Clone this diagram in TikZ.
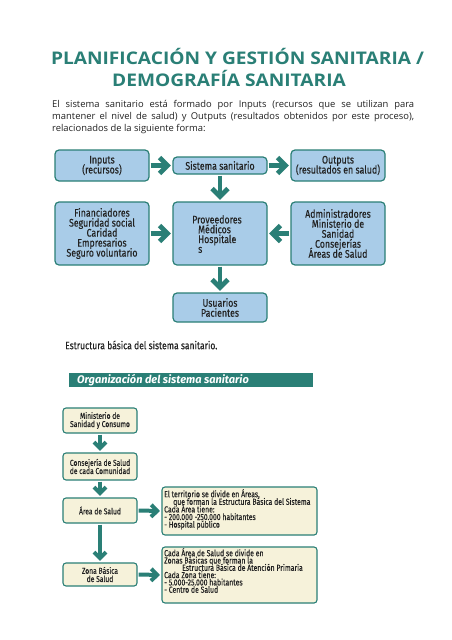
\documentclass[tikz,border=0pt]{standalone}
\usepackage{fontspec}
\setmainfont{Fira Sans}
\newfontfamily\cond[FakeStretch=0.8,FakeBold=0.3]{Fira Sans}
\newfontfamily\condb[FakeStretch=0.78,FakeBold=0.25]{Fira Sans}
\newfontfamily\titlefont{Open Sans}
\newfontfamily\titlewide[FakeStretch=1.1]{Open Sans}
\usetikzlibrary{arrows.meta}
\definecolor{teal1}{HTML}{2A7F76}
\definecolor{bluefill}{HTML}{A9CCE8}
\definecolor{creamfill}{HTML}{F6F2DA}
\definecolor{txt}{HTML}{222222}
\newcommand{\tightlines}{\lineskiplimit=-20pt\lineskip=0pt}
\tikzset{
  bluebox/.style={draw=teal1,line width=1.2pt,fill=bluefill,rounded corners=4pt,minimum width=94pt,inner sep=1pt,font=\cond\fontsize{11}{10}\selectfont\tightlines,text=txt,align=center},
  creambox/.style={draw=teal1,line width=1.1pt,fill=creamfill,rounded corners=3pt,inner sep=1pt,font=\condb\fontsize{8.6}{8.2}\selectfont\tightlines,text=txt,align=center},
  bigarrow/.style={draw=teal1,line width=4.8pt,-{Straight Barb[length=8pt,width=16pt]}},
  smallarrow/.style={draw=teal1,line width=4pt,-{Straight Barb[length=6pt,width=12pt]}},
  titletext/.style={font=\titlewide\bfseries\fontsize{17.4}{20}\selectfont,text=teal1,inner sep=0pt},
}
\begin{document}
\begin{tikzpicture}[x=1pt,y=-1pt]
\useasboundingbox[fill=white] (0,0) rectangle (452,640);
% title
\node[titletext] (title1) at (237.5,56) {PLANIFICACIÓN Y GESTIÓN SANITARIA /};
\node[titletext] (title2) at (229,78) {DEMOGRAFÍA SANITARIA};
\node[anchor=north west,inner sep=0pt,text width=362pt,align=justify,font=\titlefont\fontsize{9.4}{12}\selectfont,text=txt] (intro) at (52,100) {El sistema sanitario está formado por Inputs (recursos que se utilizan para\linebreak mantener el nivel de salud) y Outputs (resultados obtenidos por este proceso),\linebreak relacionados de la siguiente forma:};
% top diagram
\node[bluebox,minimum height=31pt] (inputs) at (102,165.5) {Inputs\\(recursos)};
\node[bluebox,minimum height=17pt] (sist) at (220,165.5) {Sistema sanitario};
\node[bluebox,minimum height=31pt] (outputs) at (338,165.5) {Outputs\\(resultados en salud)};
\node[bluebox,minimum height=63pt] (fin) at (102,233.5) {Financiadores\\Seguridad social\\Caridad\\Empresarios\\Seguro voluntario};
\node[bluebox,minimum height=63pt] (prov) at (220,233.5) {};
\node[anchor=north west,inner sep=0pt,align=left,font=\cond\fontsize{11}{9.8}\selectfont\tightlines,text=txt] (provtxt) at (192,215) {Proveedores\\\hspace*{6pt}Médicos\\\hspace*{6pt}Hospitale\\\hspace*{6pt}s};
\node[bluebox,minimum height=63pt] (adm) at (338,233.5) {Administradores\\Ministerio de\\Sanidad\\Consejerías\\Áreas de Salud};
\node[bluebox,minimum height=29pt] (usu) at (220,307.5) {Usuarios\\Pacientes};
\draw[bigarrow,shorten <=1pt,shorten >=1.5pt] (inputs.east) -- (sist.west);
\draw[bigarrow,shorten <=1pt,shorten >=1.5pt] (sist.east) -- (outputs.west);
\draw[bigarrow,shorten <=1pt,shorten >=1.5pt] (sist.south) -- (prov.north);
\draw[bigarrow,shorten <=1pt,shorten >=1.5pt] (fin.east) -- (prov.west);
\draw[bigarrow,shorten <=1pt,shorten >=1.5pt] (adm.west) -- (prov.east);
\draw[bigarrow,shorten <=1pt,shorten >=1.5pt] (prov.south) -- (usu.north);
% caption
\node[anchor=west,inner sep=0pt,font=\cond\fontsize{10.7}{11}\selectfont,text=txt] (caption) at (65,345) {Estructura básica del sistema sanitario.};
% banner
\node[anchor=north west,fill=teal1,minimum width=244pt,minimum height=14pt,inner sep=0pt] (banner) at (69,373) {};
\node[anchor=west,inner sep=0pt,font=\bfseries\itshape\fontsize{11}{12}\selectfont,text=white] (bannertxt) at (77,380) {Organización del sistema sanitario};
% lower diagram
\node[creambox,minimum width=74pt,minimum height=25pt] (min) at (100,420.5) {Ministerio de\\Sanidad y Consumo};
\node[creambox,minimum width=74pt,minimum height=27pt] (cons) at (100,466.5) {Consejería de Salud\\de cada Comunidad};
\node[creambox,minimum width=74pt,minimum height=25pt] (area) at (100,510.5) {Área de Salud};
\node[creambox,minimum width=74pt,minimum height=23pt] (zona) at (100,574.5) {Zona Básica\\de Salud};
\node[creambox,minimum width=155pt,minimum height=48pt] (info1) at (239.5,511) {};
\node[anchor=north west,inner sep=0pt,align=left,font=\condb\fontsize{8.8}{7.6}\selectfont\tightlines,text=txt] (info1txt) at (164,489) {El territorio se divide en Áreas,\\\hspace*{9pt}que forman la Estructura Básica del Sistema\\Cada Área tiene:\\- 200.000 -250.000 habitantes\\- Hospital público};
\node[creambox,minimum width=155pt,minimum height=56pt] (info2) at (239.5,575) {};
\node[anchor=north west,inner sep=0pt,align=left,font=\condb\fontsize{8.8}{7.3}\selectfont\tightlines,text=txt] (info2txt) at (164,548) {Cada Área de Salud se divide en\\Zonas Básicas que forman la\\\hspace*{18pt}Estructura Básica de Atención Primaria\\Cada Zona tiene:\\- 5.000-25.000 habitantes\\- Centro de Salud};
\draw[smallarrow,shorten <=1pt,shorten >=1.5pt] (min.south) -- (cons.north);
\draw[smallarrow,shorten <=1pt,shorten >=1.5pt] (cons.south) -- (area.north);
\draw[smallarrow,shorten <=1pt,shorten >=1.5pt] (area.south) -- (zona.north);
\draw[smallarrow,shorten <=1pt,shorten >=1.5pt] (area.east) -- (info1.west);
\draw[smallarrow,shorten <=1pt,shorten >=1.5pt] (zona.east) -- (info2.west);
\end{tikzpicture}
\end{document}
